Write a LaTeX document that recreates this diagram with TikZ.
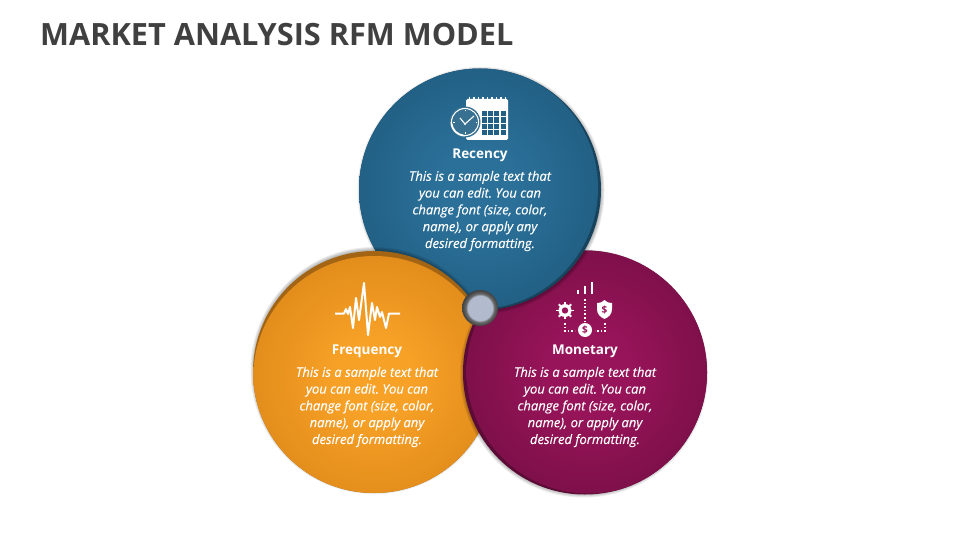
\documentclass[tikz,border=0pt]{standalone}
\usepackage{fontspec}
\setmainfont{Open Sans}
\usetikzlibrary{calc}
\definecolor{titlecol}{HTML}{404040}
\definecolor{blueC}{HTML}{2B7099}
\definecolor{blueE}{HTML}{226085}
\definecolor{orangeC}{HTML}{F7A127}
\definecolor{orangeE}{HTML}{E38D1C}
\definecolor{magC}{HTML}{98145A}
\definecolor{magE}{HTML}{7E104A}
\definecolor{knobC}{HTML}{B2BACD}
\pgfdeclareradialshading{shBlue}{\pgfpoint{0bp}{0bp}}{color(0bp)=(blueC);color(8bp)=(blueC);color(25bp)=(blueE);color(50bp)=(blueE)}
\pgfdeclareradialshading{shOrange}{\pgfpoint{0bp}{0bp}}{color(0bp)=(orangeC);color(8bp)=(orangeC);color(25bp)=(orangeE);color(50bp)=(orangeE)}
\pgfdeclareradialshading{shMag}{\pgfpoint{0bp}{0bp}}{color(0bp)=(magC);color(8bp)=(magC);color(25bp)=(magE);color(50bp)=(magE)}
\pgfdeclareradialshading{shKnob}{\pgfpoint{0bp}{0bp}}{color(0bp)=(knobC);color(17bp)=(knobC);color(20bp)=(gray!80!black);color(25bp)=(gray!50!black);color(50bp)=(gray!50!black)}
\tikzset{
 bodytext/.style={text=white,align=center,font=\fontsize{13}{16.8}\selectfont\itshape\addfontfeature{FakeBold=0.25},inner sep=0pt},
 headtext/.style={text=white,align=center,font=\fontsize{13.5}{16}\selectfont\bfseries,inner sep=0pt},
 titletext/.style={text=titlecol,anchor=west,font=\fontsize{30.7}{36}\selectfont\bfseries,inner sep=0pt},
 iconline/.style={draw=white,line width=1.8pt},
 dots/.style={draw=white,line width=1.6pt,dash pattern=on 1.6pt off 2pt},
 softshadow/.style={fill=black,fill opacity=.08,draw=none}
}
\newcommand{\softshad}[3]{%
 \foreach \k in {0,1,2,3}{\fill[softshadow] (#1,#2) circle[radius=#3+\k];}}
% x y r shading rim dx dy : main disc shifted by (dx,dy) inside the rim disc
\newcommand{\disc}[7]{%
 \begin{scope}
 \clip (#1,#2) circle[radius=#3];
 \fill[#5] (#1,#2) circle[radius=#3+1];
 \shade[shading=#4] (#1+#6,#2+#7) circle[radius=#3];
 \end{scope}}
\frenchspacing
\begin{document}
\begin{tikzpicture}[x=1pt,y=-1pt]
\useasboundingbox (0,0) rectangle (960,540);
\node[titletext] (title) at (40,35) {MARKET ANALYSIS RFM MODEL};
% blue at the bottom
\softshad{481}{190.5}{120.5}
\disc{480}{189.5}{121}{shBlue}{blueE!70!black}{-3}{-1.5}
% orange over blue
\softshad{374}{370.5}{120.5}
\disc{374}{372}{121}{shOrange}{orangeE!72!black}{0.3}{5}
% magenta over orange, but kept outside the blue disc
\begin{scope}[even odd rule]
\clip (0,0) rectangle (960,540) (480,189.5) circle[radius=121];
\softshad{584}{373.5}{121}
\disc{585}{372.5}{122}{shMag}{magE!72!black}{3.5}{-1}
% blue shadow on the magenta disc
\clip (585,372.5) circle[radius=122];
\softshad{481}{190.5}{120.5}
\end{scope}
% knob
\shade[shading=shKnob] (480,308) circle[radius=18];
% texts
\node[headtext] (h1) at (480,155) {Recency};
\node[bodytext] (b1) at (480,211) {This is a sample text that\\you can edit. You can\\change font (size, color,\\name), or apply any\\desired formatting.};
\node[headtext] (h2) at (367,351) {Frequency};
\node[bodytext] (b2) at (367,407) {This is a sample text that\\you can edit. You can\\change font (size, color,\\name), or apply any\\desired formatting.};
\node[headtext] (h3) at (585,351) {Monetary};
\node[bodytext] (b3) at (585,407) {This is a sample text that\\you can edit. You can\\change font (size, color,\\name), or apply any\\desired formatting.};
% calendar icon
\fill[white,rounded corners=1.5pt] (466,99) rectangle (508,140);
\foreach \x in {468.5,473,...,506}{\fill[white] (\x,97) rectangle +(1.6,3);}
\foreach \i in {0,1,2,3}\foreach \j in {0,1,2,3}{\fill[blueE] ({482+\i*6.2},{111+\j*6.4}) rectangle +(5,5.2);}
\fill[blueE!90!white] (465,122) circle[radius=15.5];
\draw[white,line width=1.1pt] (465,122) circle[radius=13.5];
\fill[white] (450.5,122) arc[start angle=180,end angle=90,radius=14.5] -- cycle;
\fill[blueE!90!white] (465,122) circle[radius=12.6];
\draw[white,line width=1.1pt] (460,118) -- (465,124) -- (474,116);
\fill[white] (465,124) circle[radius=1.2];
\foreach \a in {0,90,180,270}{\draw[white,line width=.8pt] (465,122) ++(\a:10.5) -- ++(\a:1.8);}
% frequency icon
\draw[white,line width=2pt,line join=round] (335,313.5) -- (344,313.5) -- (346,309) -- (348,314) -- (350,307) -- (353,328) -- (356,298) -- (359,320) -- (364,283) -- (368,335) -- (372,303) -- (375,320) -- (377,307) -- (380,317) -- (382,312) -- (386,328) -- (389,313.5) -- (400,313.5);
% monetary icon
\draw[iconline] (578,290) -- (578,294);
\draw[iconline] (585,286) -- (585,294);
\draw[iconline] (592,282) -- (592,294);
\draw[dots] (585,299) -- (585,322);
\fill[white] (565,310.5) circle[radius=6.5];
\foreach \a in {0,45,...,315}{\draw[white,line width=1.8pt] (565,310.5) ++(\a:5.5) -- ++(\a:3.2);}
\fill[magC] (565,310.5) circle[radius=3.2];
\fill[white] (604.5,300) .. controls (601,303) and (599,303) .. (597,303) -- (597,309) .. controls (597,314) and (600,317) .. (604.5,319) .. controls (609,317) and (612,314) .. (612,309) -- (612,303) .. controls (610,303) and (608,303) .. (604.5,300) -- cycle;
\node[text=magC,inner sep=0pt,font=\fontsize{10}{10}\selectfont\bfseries] (d1) at (604.5,309.5) {\$};
\fill[white] (585,330) circle[radius=7];
\node[text=magC,inner sep=0pt,font=\fontsize{10}{10}\selectfont\bfseries] (d2) at (585,330) {\$};
\draw[dots] (565,323) -- (565,331) -- (575,331);
\draw[dots] (605,323) -- (605,331) -- (595,331);
\end{tikzpicture}
\end{document}
